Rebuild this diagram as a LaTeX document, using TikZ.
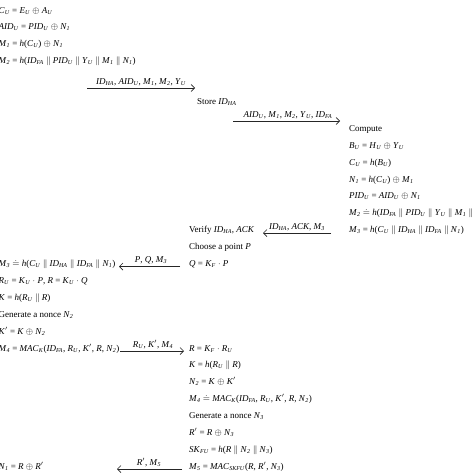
\documentclass[tikz,border=0pt]{standalone}
\usepackage{fontspec}
\setmainfont{Liberation Serif}
\usetikzlibrary{arrows.meta}
\newcommand{\vv}[2]{\textit{#1}\textsubscript{\textit{#2}}}
\newcommand{\xo}{$\oplus$}
\newcommand{\pll}{$\parallel$}
\newcommand{\deq}{$\doteq$}
\newcommand{\pr}{$'$}
\begin{document}
\begin{tikzpicture}[x=1pt,y=-1pt,
  txt/.style={anchor=base west,inner sep=0pt,font=\fontsize{9}{10}\selectfont},
  lbl/.style={anchor=base,inner sep=0pt,font=\fontsize{9}{10}\selectfont},
  msg/.style={draw=black!85,line width=0.7pt,-{Straight Barb[length=3.5pt,width=7pt]}}]
\useasboundingbox[fill=white] (0,0) rectangle (474,474);
% left column
\node[txt] (l1) at (-1.5,13.0) {\vv{C}{U} = \vv{E}{U} \xo{} \vv{A}{U}};
\node[txt] (l2) at (-1.5,29.9) {\vv{AID}{U} = \vv{PID}{U} \xo{} \vv{N}{1}};
\node[txt] (l3) at (-1.5,46.8) {\vv{M}{1} = \textit{h}(\vv{C}{U}) \xo{} \vv{N}{1}};
\node[txt] (l4) at (-1.5,63.7) {\vv{M}{2} = \textit{h}(\vv{ID}{FA} \pll{} \vv{PID}{U} \pll{} \vv{Y}{U} \pll{} \vv{M}{1} \pll{} \vv{N}{1})};
\node[txt] (l16) at (-1.5,266.5) {\vv{M}{3} \deq{} \textit{h}(\vv{C}{U} \pll{} \vv{ID}{HA} \pll{} \vv{ID}{FA} \pll{} \vv{N}{1})};
\node[txt] (l17) at (-1.5,283.4) {\vv{R}{U} = \vv{K}{U} $\cdot$ \textit{P}, \textit{R} = \vv{K}{U} $\cdot$ \textit{Q}};
\node[txt] (l18) at (-1.5,300.3) {\textit{K} = \textit{h}(\vv{R}{U} \pll{} \textit{R})};
\node[txt] (l19) at (-1.5,317.2) {Generate a nonce \vv{N}{2}};
\node[txt] (l20) at (-1.5,334.1) {\textit{K}\pr{} = \textit{K} \xo{} \vv{N}{2}};
\node[txt] (l21) at (-1.5,351.0) {\vv{M}{4} = \vv{MAC}{K}(\vv{ID}{FA}, \vv{R}{U}, \textit{K}\pr, \textit{R}, \vv{N}{2})};
\node[txt] (l28) at (-1.5,469.3) {\vv{N}{1} = \textit{R} \xo{} \textit{R}\pr};
% middle column
\node[txt] (m5) at (197,104.5) {Store \vv{ID}{HA}};
\node[txt] (m14) at (189,232.7) {Verify \vv{ID}{HA}, \textit{ACK}};
\node[txt] (m15) at (189,249.6) {Choose a point \textit{P}};
\node[txt] (m16) at (189,266.5) {\textit{Q} = \vv{K}{F} $\cdot$ \textit{P}};
\node[txt] (m21) at (189,351.0) {\textit{R} = \vv{K}{F} $\cdot$ \vv{R}{U}};
\node[txt] (m22) at (189,367.9) {\textit{K} = \textit{h}(\vv{R}{U} \pll{} \textit{R})};
\node[txt] (m23) at (189,384.8) {\vv{N}{2} = \textit{K} \xo{} \textit{K}\pr};
\node[txt] (m24) at (189,401.7) {\vv{M}{4} \deq{} \vv{MAC}{K}(\vv{ID}{FA}, \vv{R}{U}, \textit{K}\pr, \textit{R}, \vv{N}{2})};
\node[txt] (m25) at (189,418.6) {Generate a nonce \vv{N}{3}};
\node[txt] (m26) at (189,435.5) {\textit{R}\pr{} = \textit{R} \xo{} \vv{N}{3}};
\node[txt] (m27) at (189,452.4) {\vv{SK}{FU} = \textit{h}(\textit{R} \pll{} \vv{N}{2} \pll{} \vv{N}{3})};
\node[txt] (m28) at (189,469.3) {\vv{M}{5} = \vv{MAC}{SKFU}(\textit{R}, \textit{R}\pr, \vv{N}{3})};
% right column
\node[txt] (r8) at (349,131.3) {Compute};
\node[txt] (r9) at (349,148.2) {\vv{B}{U} = \vv{H}{U} \xo{} \vv{Y}{U}};
\node[txt] (r10) at (349,165.1) {\vv{C}{U} = \textit{h}(\vv{B}{U})};
\node[txt] (r11) at (349,182.0) {\vv{N}{1} = \textit{h}(\vv{C}{U}) \xo{} \vv{M}{1}};
\node[txt] (r12) at (349,198.9) {\vv{PID}{U} = \vv{AID}{U} \xo{} \vv{N}{1}};
\node[txt] (r13) at (349,215.8) {\vv{M}{2} \deq{} \textit{h}(\vv{ID}{FA} \pll{} \vv{PID}{U} \pll{} \vv{Y}{U} \pll{} \vv{M}{1} \pll{} \vv{N}{1})};
\node[txt] (r14) at (349,232.7) {\vv{M}{3} = \textit{h}(\vv{C}{U} \pll{} \vv{ID}{HA} \pll{} \vv{ID}{FA} \pll{} \vv{N}{1})};
% messages
\coordinate (a1s) at (87,88);   \coordinate (a1e) at (195,88);
\coordinate (a2s) at (233,121); \coordinate (a2e) at (340,121);
\coordinate (a3s) at (331,233); \coordinate (a3e) at (263,233);
\coordinate (a4s) at (180,266.5); \coordinate (a4e) at (119,266.5);
\coordinate (a5s) at (120,351); \coordinate (a5e) at (184,351);
\coordinate (a6s) at (182,469); \coordinate (a6e) at (117,469);
\draw[msg] (a1s) -- (a1e);
\draw[msg] (a2s) -- (a2e);
\draw[msg] (a3s) -- (a3e);
\draw[msg] (a4s) -- (a4e);
\draw[msg] (a5s) -- (a5e);
\draw[msg] (a6s) -- (a6e);
\node[lbl] (t1) at (141,84) {\vv{ID}{HA}, \vv{AID}{U}, \vv{M}{1}, \vv{M}{2}, \vv{Y}{U}};
\node[lbl] (t2) at (288,117) {\vv{AID}{U}, \vv{M}{1}, \vv{M}{2}, \vv{Y}{U}, \vv{ID}{FA}};
\node[lbl] (t3) at (297,229) {\vv{ID}{HA}, \textit{ACK}, \vv{M}{3}};
\node[lbl] (t4) at (151,262.5) {\textit{P}, \textit{Q}, \vv{M}{3}};
\node[lbl] (t5) at (153,347) {\vv{R}{U}, \textit{K}\pr, \vv{M}{4}};
\node[lbl] (t6) at (149,465) {\textit{R}\pr, \vv{M}{5}};
\end{tikzpicture}
\end{document}
